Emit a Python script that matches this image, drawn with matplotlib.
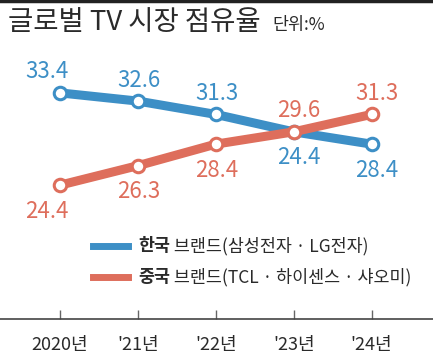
import matplotlib
matplotlib.use("Agg")
import matplotlib.pyplot as plt
from matplotlib.lines import Line2D

plt.rcParams['font.family'] = ['Noto Sans CJK KR', 'DejaVu Sans']

years = ["2020년", "'21년", "'22년", "'23년", "'24년"]
korea = [33.4, 32.6, 31.3, 29.6, 28.4]
china = [24.4, 26.3, 28.4, 29.6, 31.3]
# labels as printed in the source graphic
korea_labels = ["33.4", "32.6", "31.3", "24.4", "28.4"]
china_labels = ["24.4", "26.3", "28.4", "29.6", "31.3"]
# label above (+) or below (-) the point
korea_side = [1, 1, 1, -1, -1]
china_side = [-1, -1, -1, 1, 1]

blue = "#3d8fc6"
red = "#de6e5c"
dark = "#2a2a2a"

W, H = 433, 353
fig = plt.figure(figsize=(W / 100, H / 100), dpi=100)
ax = fig.add_axes([0, 34 / H, 1, 279 / H])
x = list(range(len(years)))

ax.plot(x, korea, color=blue, lw=6.5, solid_capstyle="round", zorder=2,
        marker="o", ms=9, mfc="white", mec=blue, mew=2.2)
ax.plot(x, china, color=red, lw=6.5, solid_capstyle="round", zorder=3,
        marker="o", ms=9, mfc="white", mec=red, mew=2.2)

dx = [-13, 1, 1, 5, 5]
for i in x:
    for vals, labs, side, col in ((korea, korea_labels, korea_side, blue),
                                  (china, china_labels, china_side, red)):
        dy = 21 if side[i] > 0 else -26
        ax.annotate(labs[i], (i, vals[i]), xytext=(dx[i], dy),
                    textcoords="offset pixels", ha="center", va="center",
                    fontsize=16, color=col)

ax.set_xlim(-60 / 77.9, (W - 60) / 77.9)
ax.set_ylim(11.34, 38.56)
for s in ["top", "right", "left"]:
    ax.spines[s].set_visible(False)
ax.spines["bottom"].set_color("#444444")
ax.spines["bottom"].set_linewidth(1.2)
ax.set_yticks([])
ax.set_xticks(x)
ax.set_xticklabels(years, fontsize=13, color=dark)
ax.tick_params(axis="x", direction="in", length=6.5, width=1, color="#666666", pad=12)
ax.patch.set_alpha(0)

# top rule
fig.add_artist(Line2D([0, 1], [1 - 1 / H, 1 - 1 / H], color="#222222", lw=2.5))

# title
fig.text(8 / W, 1 - 23 / H, "글로벌 TV 시장 점유율", fontsize=19.8, color=dark,
         ha="left", va="center", weight="medium")
fig.text(272 / W, 1 - 25 / H, "단위:%", fontsize=12.5, color=dark,
         ha="left", va="center")

# legend
fig.canvas.draw()
renderer = fig.canvas.get_renderer()
for y_px, col, bold, rest in ((246, blue, "한국", " 브랜드(삼성전자 · LG전자)"),
                              (277, red, "중국", " 브랜드(TCL · 하이센스 · 샤오미)")):
    yf = 1 - y_px / H
    fig.add_artist(Line2D([93 / W, 128 / W], [yf, yf], color=col, lw=5))
    t = fig.text(138 / W, yf, bold, fontsize=12.5, color=dark, weight="bold",
                 ha="left", va="center")
    bb = t.get_window_extent(renderer)
    fig.text(bb.x1 / W, yf, rest, fontsize=12.5, color=dark, ha="left", va="center")

fig.savefig("out.png", dpi=100)
